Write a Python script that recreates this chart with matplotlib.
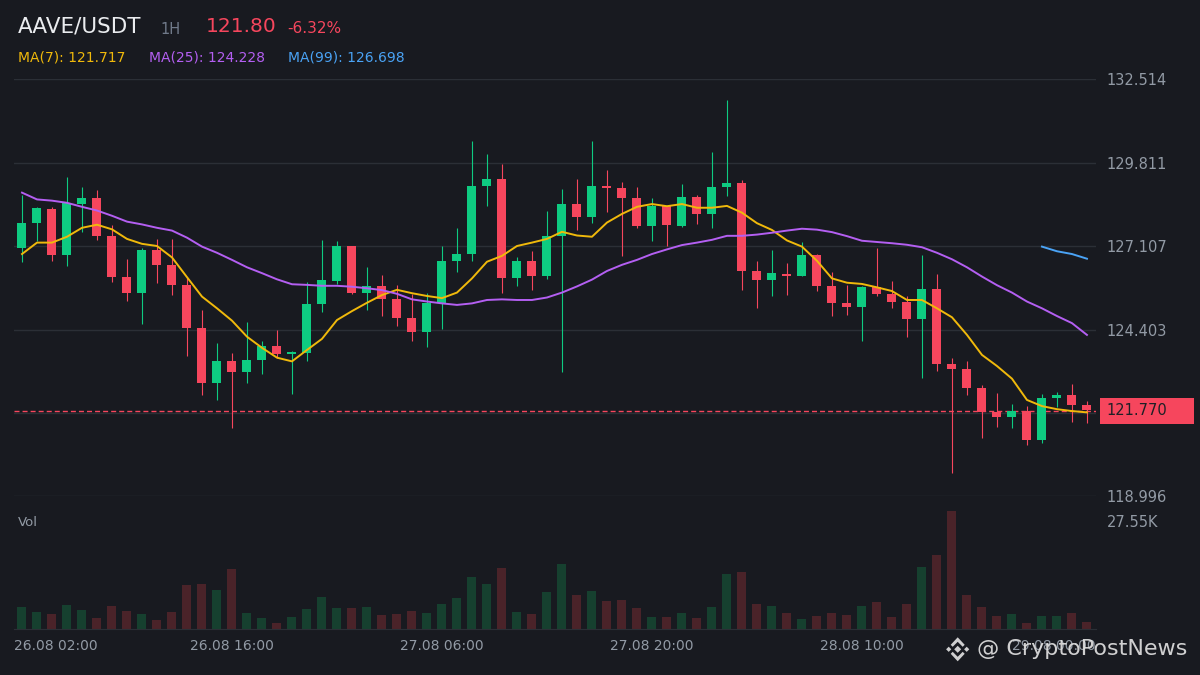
import numpy as np
import matplotlib
matplotlib.use('Agg')
import matplotlib.pyplot as plt
import matplotlib.transforms as mtransforms
from matplotlib.patches import Polygon, Rectangle

# colours
BG = '#181a20'
GREEN = '#0ecb81'
RED = '#f6465d'
VGREEN = '#16402f'
VRED = '#4a2329'
GRID = '#2b2f36'
GRAY = '#929aa5'
C_MA7 = '#f0b90b'
C_MA25 = '#b45ff2'
C_MA99 = '#4aa3f5'

# hourly candles, 26.08 02:00 -> 29.08 01:00
opens = [127.06, 127.87, 128.31, 126.83, 128.48, 128.67, 127.44, 126.12, 125.60, 126.98,
         126.50, 125.86, 124.46, 122.68, 123.38, 123.04, 123.42, 123.87, 123.62, 123.65,
         125.24, 125.99, 127.11, 125.60, 125.81, 125.40, 124.79, 124.33, 125.27, 126.62,
         126.85, 129.06, 129.28, 126.08, 126.62, 126.15, 127.44, 128.47, 128.06, 129.06,
         129.00, 128.67, 127.77, 128.42, 127.77, 128.70, 128.16, 129.02, 129.15, 126.30,
         126.02, 126.20, 126.15, 126.82, 125.82, 125.27, 125.14, 125.78, 125.56, 125.31,
         124.75, 125.72, 123.30, 123.13, 122.52, 121.74, 121.58, 121.76, 120.83, 122.18,
         122.28, 121.97]
highs = [128.76, 128.37, 128.38, 129.35, 129.02, 128.93, 127.79, 126.69, 127.06, 127.34,
         127.34, 126.12, 125.04, 123.97, 123.64, 124.65, 124.03, 124.39, 123.71, 125.94,
         127.31, 127.27, 127.12, 126.43, 126.17, 125.85, 125.56, 125.58, 127.11, 127.69,
         130.51, 130.09, 129.77, 126.75, 126.95, 128.25, 128.96, 129.28, 130.51, 129.57,
         129.19, 129.02, 128.67, 128.42, 129.12, 128.76, 130.16, 131.84, 129.25, 126.62,
         126.98, 126.56, 127.24, 126.85, 126.27, 125.85, 125.81, 127.05, 125.98, 125.49,
         126.82, 126.20, 123.48, 123.38, 122.61, 122.36, 121.99, 121.92, 122.31, 122.38,
         122.64, 122.09]
lows = [126.60, 127.28, 126.63, 126.47, 127.56, 127.31, 125.95, 125.34, 124.59, 125.92,
        125.53, 123.55, 122.29, 122.13, 121.22, 122.68, 122.97, 123.49, 122.32, 123.39,
        124.98, 125.88, 125.56, 125.05, 124.85, 124.53, 124.04, 123.85, 124.43, 126.28,
        126.63, 128.42, 125.60, 125.82, 125.69, 126.05, 123.04, 127.64, 127.87, 128.22,
        126.80, 127.70, 127.28, 127.12, 127.74, 127.83, 127.70, 128.74, 125.69, 125.11,
        125.50, 125.53, 126.14, 125.66, 124.85, 124.88, 124.04, 125.50, 125.11, 124.17,
        122.84, 123.07, 119.76, 122.29, 120.90, 121.25, 121.22, 120.67, 120.73, 121.90,
        121.42, 121.38]
closes = [127.86, 128.34, 126.83, 128.50, 128.67, 127.44, 126.12, 125.60, 126.98, 126.50,
          125.86, 124.46, 122.68, 123.38, 123.04, 123.42, 123.87, 123.62, 123.68, 125.23,
          126.01, 127.11, 125.60, 125.81, 125.40, 124.79, 124.33, 125.27, 126.62, 126.85,
          129.06, 129.28, 126.08, 126.62, 126.15, 127.44, 128.47, 128.06, 129.06, 129.00,
          128.68, 127.77, 128.42, 127.80, 128.70, 128.16, 129.02, 129.15, 126.30, 126.02,
          126.24, 126.15, 126.82, 125.82, 125.27, 125.14, 125.78, 125.56, 125.31, 124.75,
          125.72, 123.30, 123.13, 122.52, 121.74, 121.58, 121.76, 120.83, 122.18, 122.28,
          121.97, 121.80]
volumes = [5.67, 4.40, 3.89, 6.17, 4.90, 2.88, 5.92, 4.65, 3.89, 2.37,
           4.40, 11.25, 11.50, 9.98, 15.31, 4.14, 2.88, 1.61, 3.13, 5.16,
           8.20, 5.41, 5.41, 5.67, 3.64, 3.89, 4.65, 4.14, 6.43, 7.95,
           13.28, 11.50, 15.56, 4.40, 3.89, 9.47, 16.57, 8.71, 9.72, 7.19,
           7.44, 5.41, 3.13, 3.13, 4.14, 2.88, 5.67, 14.04, 14.54, 6.43,
           5.92, 4.14, 2.62, 3.38, 4.14, 3.64, 5.92, 6.93, 3.13, 6.43,
           15.81, 18.86, 30.02, 8.71, 5.67, 3.38, 3.89, 1.61, 3.38, 3.38,
           4.14, 1.86]  # thousands

ma7 = [126.85, 127.22, 127.22, 127.41, 127.70, 127.80, 127.65, 127.34, 127.18, 127.11,
       126.74, 126.10, 125.47, 125.09, 124.69, 124.17, 123.81, 123.49, 123.37, 123.74,
       124.10, 124.71, 125.00, 125.27, 125.52, 125.69, 125.58, 125.49, 125.42, 125.60,
       126.06, 126.60, 126.79, 127.11, 127.22, 127.34, 127.57, 127.45, 127.41, 127.87,
       128.15, 128.38, 128.47, 128.40, 128.47, 128.35, 128.35, 128.41, 128.19, 127.85,
       127.63, 127.29, 127.09, 126.63, 126.06, 125.92, 125.88, 125.77, 125.65, 125.36,
       125.36, 125.09, 124.80, 124.23, 123.58, 123.22, 122.81, 122.12, 121.92, 121.82,
       121.76, 121.717]
ma25 = [128.84, 128.62, 128.58, 128.51, 128.38, 128.26, 128.09, 127.90, 127.81, 127.70,
        127.61, 127.38, 127.09, 126.89, 126.66, 126.42, 126.23, 126.03, 125.87, 125.85,
        125.82, 125.82, 125.79, 125.74, 125.68, 125.56, 125.38, 125.31, 125.25, 125.20,
        125.25, 125.36, 125.38, 125.36, 125.36, 125.44, 125.60, 125.80, 126.02, 126.30,
        126.50, 126.66, 126.85, 127.00, 127.14, 127.22, 127.31, 127.44, 127.44, 127.48,
        127.54, 127.61, 127.67, 127.64, 127.56, 127.43, 127.28, 127.24, 127.20, 127.15,
        127.07, 126.89, 126.68, 126.42, 126.12, 125.84, 125.60, 125.31, 125.09, 124.84,
        124.61, 124.228]
ma99 = [127.09, 126.94, 126.85, 126.698]
ma99_start = 68

price_ticks = [118.996, 121.699, 124.403, 127.107, 129.811, 132.514]
last_price = 121.770
vol_tick = 27.55
xtick_idx = [0, 14, 28, 42, 56, 70]
xtick_labels = ['26.08 02:00', '26.08 16:00', '27.08 06:00', '27.08 20:00', '28.08 10:00', '29.08 00:00']

o = np.array(opens); h = np.array(highs); l = np.array(lows); c = np.array(closes)
x = np.arange(len(o))
up = c >= o
ccol = np.where(up, GREEN, RED)
vcol = np.where(up, VGREEN, VRED)

fig = plt.figure(figsize=(12, 6.75), dpi=100, facecolor=BG)
L, W = 14 / 1200, (1095.5 - 14) / 1200
ax = fig.add_axes([L, 1 - 496.3 / 675, W, (496.3 - 79.3) / 675])
axv = fig.add_axes([L, 1 - 629.3 / 675, W, (629.3 - 505) / 675])
xlim = (-0.533, 71.57)

# price pane
ax.set_facecolor(BG)
ax.vlines(x, l, h, colors=ccol, lw=0.8, zorder=3)
ax.bar(x, np.maximum(np.abs(c - o), 0.05), bottom=np.minimum(o, c), width=0.6,
       color=ccol, zorder=3)
ax.plot(x, ma7, color=C_MA7, lw=1.4, zorder=4)
ax.plot(x, ma25, color=C_MA25, lw=1.4, zorder=4)
ax.plot(x[ma99_start:], ma99, color=C_MA99, lw=1.4, zorder=4)
ax.axhline(last_price, color=RED, lw=1, ls=(0, (3.6, 2.2)), zorder=2)
ax.set_xlim(*xlim)
ax.set_ylim(price_ticks[0], price_ticks[-1])
ax.set_yticks(price_ticks)
ax.set_yticklabels(['' if abs(t - last_price) < 0.2 else f'{t:.3f}' for t in price_ticks])
ax.yaxis.tick_right()
ax.tick_params(axis='y', length=0, pad=8, labelsize=10.5, labelcolor=GRAY)
ax.set_xticks([])
ax.grid(axis='y', color=GRID, lw=1)
ax.set_axisbelow(True)
for s in ax.spines.values():
    s.set_visible(False)

# current price tag
tr = mtransforms.blended_transform_factory(ax.transAxes, ax.transData)
ax.add_patch(Rectangle((1.0042, last_price - 0.42), 0.0869, 0.843, transform=tr,
                       facecolor=RED, edgecolor='none', clip_on=False, zorder=5))
ax.text(1.0104, last_price, f'{last_price:.3f}', transform=tr, ha='left', va='center',
        fontsize=10.5, color='#1e2026', zorder=6, clip_on=False)

# volume pane
axv.set_facecolor(BG)
axv.bar(x, volumes, width=0.6, color=vcol)
axv.set_xlim(*xlim)
axv.set_ylim(0, 31.53)
axv.set_yticks([vol_tick])
axv.set_yticklabels([f'{vol_tick:.2f}K'])
axv.yaxis.tick_right()
axv.tick_params(axis='y', length=0, pad=8, labelsize=10.5, labelcolor=GRAY)
axv.set_xticks([])
for k, s in axv.spines.items():
    s.set_visible(k == 'bottom')
axv.spines['bottom'].set_color(GRID)
axv.text(0.004, 0.86, 'Vol', transform=axv.transAxes, fontsize=9.5, color=GRAY, va='center')

trx = mtransforms.blended_transform_factory(axv.transData, axv.transAxes)
for i, (xi, lab) in enumerate(zip(xtick_idx, xtick_labels)):
    if i == 0:
        xp, ha = xlim[0], 'left'
    elif i == len(xtick_idx) - 1:
        xp, ha = xlim[1], 'right'
    else:
        xp, ha = xi, 'center'
    axv.text(xp, -0.134, lab, transform=trx, ha=ha, va='center', fontsize=10, color=GRAY)

# header
def ftxt(px, py, s, **kw):
    fig.text(px / 1200, 1 - py / 675, s, va='center', ha='left', **kw)

ftxt(18, 27, 'AAVE/USDT', fontsize=15.5, color='#eaecef')
ftxt(160, 29, '1H', fontsize=10.5, color='#707a8a')
ftxt(206, 27, f'{closes[-1]:.2f}', fontsize=14.5, color=RED)
ftxt(287, 28.5, '-6.32%', fontsize=11, color=RED)
ftxt(18, 57.5, f'MA(7): {ma7[-1]:.3f}', fontsize=10, color=C_MA7)
ftxt(149, 57.5, f'MA(25): {ma25[-1]:.3f}', fontsize=10, color=C_MA25)
ftxt(288, 57.5, f'MA(99): {ma99[-1]:.3f}', fontsize=10, color=C_MA99)

# watermark
ov = fig.add_axes([0, 0, 1, 1], zorder=10)
ov.set_xlim(0, 1200)
ov.set_ylim(675, 0)
ov.axis('off')
ov.patch.set_alpha(0)
cx, cy = 957.7, 649.3
wm = dict(facecolor='#e4e4e4', edgecolor='none', alpha=0.9)
for dx, dy, r in [(0, 0, 3.5), (-9, 0, 2.6), (9, 0, 2.6)]:
    ov.add_patch(Polygon([(cx + dx, cy + dy - r), (cx + dx + r, cy + dy),
                          (cx + dx, cy + dy + r), (cx + dx - r, cy + dy)], **wm))
for sgn in (-1, 1):
    ov.add_patch(Polygon([(cx - 7, cy + sgn * 4.5), (cx, cy + sgn * 12), (cx + 7, cy + sgn * 4.5),
                          (cx + 5, cy + sgn * 2.5), (cx, cy + sgn * 7.5), (cx - 5, cy + sgn * 2.5)], **wm))
ov.text(977, 649.3, '@ CryptoPostNews', fontsize=16, color='#e4e4e4', alpha=0.9,
        va='center', ha='left')

fig.savefig('out.png', dpi=100, facecolor=BG)
